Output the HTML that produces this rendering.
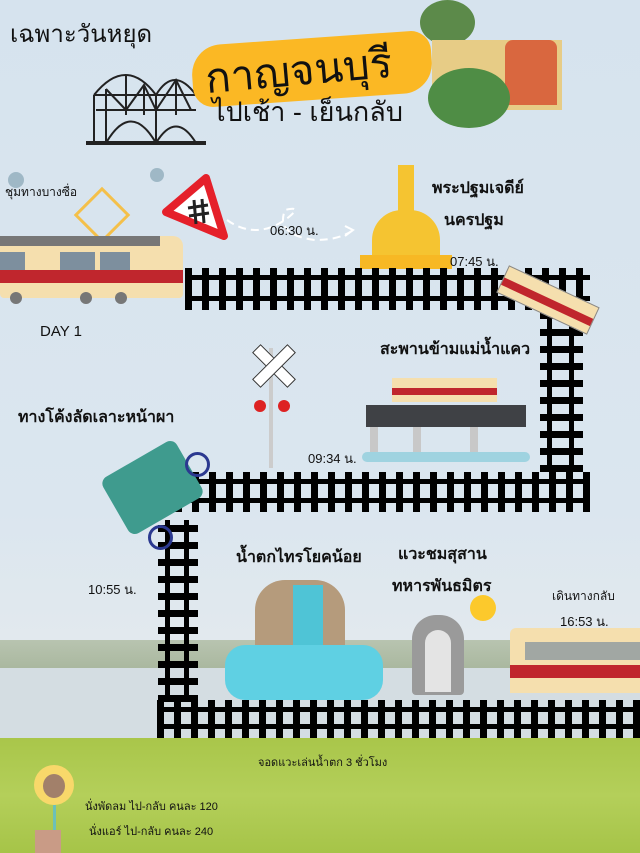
<!DOCTYPE html>
<html><head><meta charset="utf-8"><style>
*{margin:0;padding:0;box-sizing:border-box}
body{width:640px;height:853px;overflow:hidden;position:relative;font-family:"Liberation Sans","Noto Sans CJK SC",sans-serif;background:linear-gradient(#d6e3ee 0%,#dbe6ef 60%,#e2e9ee 75%,#e2e9ee 100%)}
.a{position:absolute}
.h{position:absolute;background:
 linear-gradient(#000,#000) 0 7px/100% 5px no-repeat,
 linear-gradient(#000,#000) 0 calc(100% - 9px)/100% 5px no-repeat,
 repeating-linear-gradient(90deg,#000 0 7px,transparent 7px 17px)}
.v{position:absolute;background:
 linear-gradient(#000,#000) 7px 0/5px 100% no-repeat,
 linear-gradient(#000,#000) calc(100% - 9px) 0/5px 100% no-repeat,
 repeating-linear-gradient(0deg,#000 0 7px,transparent 7px 17px)}
.t{position:absolute;color:#111;white-space:nowrap}
.b{font-weight:bold;font-size:16px}
.train{position:absolute;background:#f5dfae;border-radius:4px 10px 4px 4px}
</style></head><body>
<div class="a" style="left:0;top:640px;width:640px;height:30px;background:linear-gradient(#b8c4b0,#a9b79e)"></div>
<div class="a" style="left:0;top:668px;width:640px;height:72px;background:#d4dde2"></div>
<div class="a" style="left:0;top:738px;width:640px;height:115px;background:linear-gradient(#a9c64a,#b4cf5a 50%,#a6c448)"></div>

<!-- header -->
<div class="t" style="left:10px;top:14px;font-size:24px">เฉพาะวันหยุด</div>
<svg class="a" style="left:86px;top:55px" width="120" height="92" viewBox="0 0 120 92">
 <g fill="none" stroke="#222" stroke-width="2">
 <path d="M8 40 Q40 0 70 40 Q88 10 110 40"/>
 <path d="M8 40 L8 88 M20 34 L20 88 M40 20 V60 M58 30 V60 M70 40 V88 M90 25 V60"/>
 <path d="M20 88 Q45 45 70 88 M70 88 Q90 55 110 88"/>
 <path d="M8 40 L110 40 M10 55 L110 55"/>
 <path d="M20 34 L40 55 L58 30 L70 55 L90 25 L105 55"/>
 </g>
 <rect x="0" y="86" width="120" height="4" fill="#222"/>
</svg>
<div class="a" style="left:192px;top:38px;width:240px;height:62px;background:#fbb824;border-radius:30px 20px 30px 20px;transform:rotate(-4deg)"></div>
<div class="t" style="left:205px;top:38px;font-size:42px;transform:rotate(-5deg)">กาญจนบุรี</div>
<div class="t" style="left:212px;top:90px;font-size:27px">ไปเช้า - เย็นกลับ</div>
<div class="a" style="left:420px;top:0;width:55px;height:45px;background:#5c8a4a;border-radius:50%"></div>
<div class="a" style="left:432px;top:40px;width:130px;height:70px;background:#e7cc86"></div>
<div class="a" style="left:505px;top:40px;width:52px;height:65px;background:#d9673f;border-radius:8px 8px 0 0"></div>
<div class="a" style="left:428px;top:68px;width:82px;height:60px;background:#4f8d45;border-radius:50%"></div>

<!-- station 1 -->
<div class="t" style="left:5px;top:183px;font-size:12px">ชุมทางบางซื่อ</div>
<div class="a" style="left:82px;top:195px;width:40px;height:40px;border:3px solid #f4c04a;transform:rotate(45deg)"></div>
<div class="a" style="left:8px;top:172px;width:16px;height:16px;background:#9fb8c6;border-radius:50%"></div>
<div class="a" style="left:150px;top:168px;width:14px;height:14px;background:#9fb8c6;border-radius:50%"></div>
<div class="train" style="left:0;top:236px;width:183px;height:62px"></div>
<div class="a" style="left:0;top:236px;width:160px;height:10px;background:#777"></div>
<div class="a" style="left:0;top:270px;width:183px;height:13px;background:#c0262d"></div>
<div class="a" style="left:60px;top:252px;width:35px;height:18px;background:#7d8f9e"></div>
<div class="a" style="left:100px;top:252px;width:30px;height:18px;background:#7d8f9e"></div>
<div class="a" style="left:0;top:252px;width:25px;height:18px;background:#7d8f9e"></div>
<div class="a" style="left:10px;top:292px;width:12px;height:12px;background:#777;border-radius:50%"></div>
<div class="a" style="left:80px;top:292px;width:12px;height:12px;background:#777;border-radius:50%"></div>
<div class="a" style="left:115px;top:292px;width:12px;height:12px;background:#777;border-radius:50%"></div>
<svg class="a" style="left:158px;top:170px" width="75" height="75" viewBox="0 0 75 75">
 <polygon points="8,42 48,8 66,66" fill="#fff" stroke="#e5202a" stroke-width="8" stroke-linejoin="round"/>
 <path d="M30 38 L50 35 M31 46 L51 43 M36 30 L38 54 M44 29 L46 53" stroke="#222" stroke-width="3"/>
</svg>
<svg class="a" style="left:225px;top:200px" width="135" height="50">
 <path d="M2 20 Q30 40 60 20 Q80 5 60 10 Q50 35 90 40 Q115 40 128 30" fill="none" stroke="#fff" stroke-width="2" stroke-dasharray="8 5"/>
 <path d="M120 26 L128 30 L120 36" fill="none" stroke="#fff" stroke-width="2"/>
</svg>
<div class="t" style="left:270px;top:220px;font-size:13px">06:30 น.</div>

<!-- chedi -->
<div class="a" style="left:372px;top:210px;width:68px;height:58px;background:#f5c431;border-radius:30px 30px 0 0"></div>
<div class="a" style="left:360px;top:255px;width:92px;height:14px;background:#f7b824"></div>
<div class="a" style="left:398px;top:165px;width:16px;height:50px;background:#f5c431"></div>
<div class="t b" style="left:432px;top:176px">พระปฐมเจดีย์</div>
<div class="t b" style="left:444px;top:208px">นครปฐม</div>
<div class="t" style="left:450px;top:251px;font-size:13px">07:45 น.</div>

<div class="h" style="left:185px;top:268px;width:405px;height:42px"></div>
<div class="v" style="left:540px;top:310px;width:43px;height:162px"></div>
<div class="a" style="left:498px;top:285px;width:100px;height:30px;background:#f5dfae;border:1px solid #888;transform:rotate(25deg)"><div style="margin-top:12px;height:8px;background:#c0262d"></div></div>

<div class="t" style="left:40px;top:323px;font-size:15px">DAY 1</div>

<div class="a" style="left:269px;top:348px;width:4px;height:120px;background:#ccc"></div>
<div class="a" style="left:249px;top:360px;width:50px;height:12px;background:#fff;border:1px solid #333;transform:rotate(45deg)"></div>
<div class="a" style="left:249px;top:360px;width:50px;height:12px;background:#fff;border:1px solid #333;transform:rotate(-45deg)"></div>
<div class="a" style="left:254px;top:400px;width:12px;height:12px;background:#d22;border-radius:50%"></div>
<div class="a" style="left:278px;top:400px;width:12px;height:12px;background:#d22;border-radius:50%"></div>

<div class="t b" style="left:380px;top:337px">สะพานข้ามแม่น้ำแคว</div>
<div class="a" style="left:392px;top:378px;width:105px;height:24px;background:#f5dfae"><div style="margin-top:10px;height:7px;background:#c0262d"></div></div>
<div class="a" style="left:366px;top:405px;width:160px;height:22px;background:#3f4145"></div>
<div class="a" style="left:370px;top:427px;width:8px;height:30px;background:#c8c8c8"></div>
<div class="a" style="left:413px;top:427px;width:8px;height:30px;background:#c8c8c8"></div>
<div class="a" style="left:470px;top:427px;width:8px;height:30px;background:#c8c8c8"></div>
<div class="a" style="left:362px;top:452px;width:168px;height:10px;background:#9fd3e0;border-radius:5px"></div>
<div class="t" style="left:308px;top:448px;font-size:13px">09:34 น.</div>

<div class="t b" style="left:18px;top:405px">ทางโค้งลัดเลาะหน้าผา</div>

<div class="h" style="left:158px;top:472px;width:432px;height:40px"></div>
<div class="v" style="left:158px;top:520px;width:40px;height:182px"></div>
<div class="a" style="left:110px;top:455px;width:85px;height:65px;background:#3f9b8e;border-radius:8px;transform:rotate(-30deg)"></div>
<div class="a" style="left:185px;top:452px;width:25px;height:25px;border:3px solid #2b3990;border-radius:50%"></div>
<div class="a" style="left:148px;top:525px;width:25px;height:25px;border:3px solid #2b3990;border-radius:50%"></div>

<div class="t" style="left:88px;top:579px;font-size:13px">10:55 น.</div>
<div class="t b" style="left:236px;top:545px">น้ำตกไทรโยคน้อย</div>
<div class="t b" style="left:398px;top:542px">แวะชมสุสาน</div>
<div class="t b" style="left:392px;top:574px">ทหารพันธมิตร</div>
<div class="t" style="left:552px;top:587px;font-size:12px">เดินทางกลับ</div>
<div class="t" style="left:560px;top:611px;font-size:13px">16:53 น.</div>

<div class="a" style="left:255px;top:580px;width:90px;height:70px;background:#b59b7c;border-radius:30px 30px 0 0"></div>
<div class="a" style="left:293px;top:585px;width:30px;height:60px;background:#4fc4d6"></div>
<div class="a" style="left:225px;top:645px;width:158px;height:55px;background:#5fd0e3;border-radius:20px"></div>
<div class="a" style="left:412px;top:615px;width:52px;height:80px;background:#9a9a9a;border-radius:24px 24px 4px 4px"></div>
<div class="a" style="left:425px;top:630px;width:26px;height:62px;background:#e4e4e4;border-radius:13px 13px 0 0"></div>
<div class="a" style="left:470px;top:595px;width:26px;height:26px;background:#fcc92c;border-radius:50%"></div>
<div class="train" style="left:510px;top:628px;width:130px;height:65px;border-radius:6px 0 0 0"></div>
<div class="a" style="left:525px;top:642px;width:115px;height:18px;background:#7d8f9e;opacity:.7"></div>
<div class="a" style="left:510px;top:665px;width:130px;height:13px;background:#c0262d"></div>

<div class="h" style="left:157px;top:700px;width:483px;height:38px"></div>

<div class="t" style="left:258px;top:753px;font-size:11px">จอดแวะเล่นน้ำตก 3 ชั่วโมง</div>
<div class="a" style="left:34px;top:765px;width:40px;height:40px;background:#f8d86a;border-radius:50%"></div>
<div class="a" style="left:43px;top:774px;width:22px;height:24px;background:#a2806a;border-radius:50%"></div>
<div class="a" style="left:53px;top:805px;width:3px;height:25px;background:#6cc0b8"></div>
<div class="a" style="left:35px;top:830px;width:26px;height:23px;background:#c99b86"></div>
<div class="t" style="left:85px;top:797px;font-size:11px">นั่งพัดลม ไป-กลับ คนละ 120</div>
<div class="t" style="left:89px;top:822px;font-size:11px">นั่งแอร์ ไป-กลับ คนละ 240</div>
</body></html>
